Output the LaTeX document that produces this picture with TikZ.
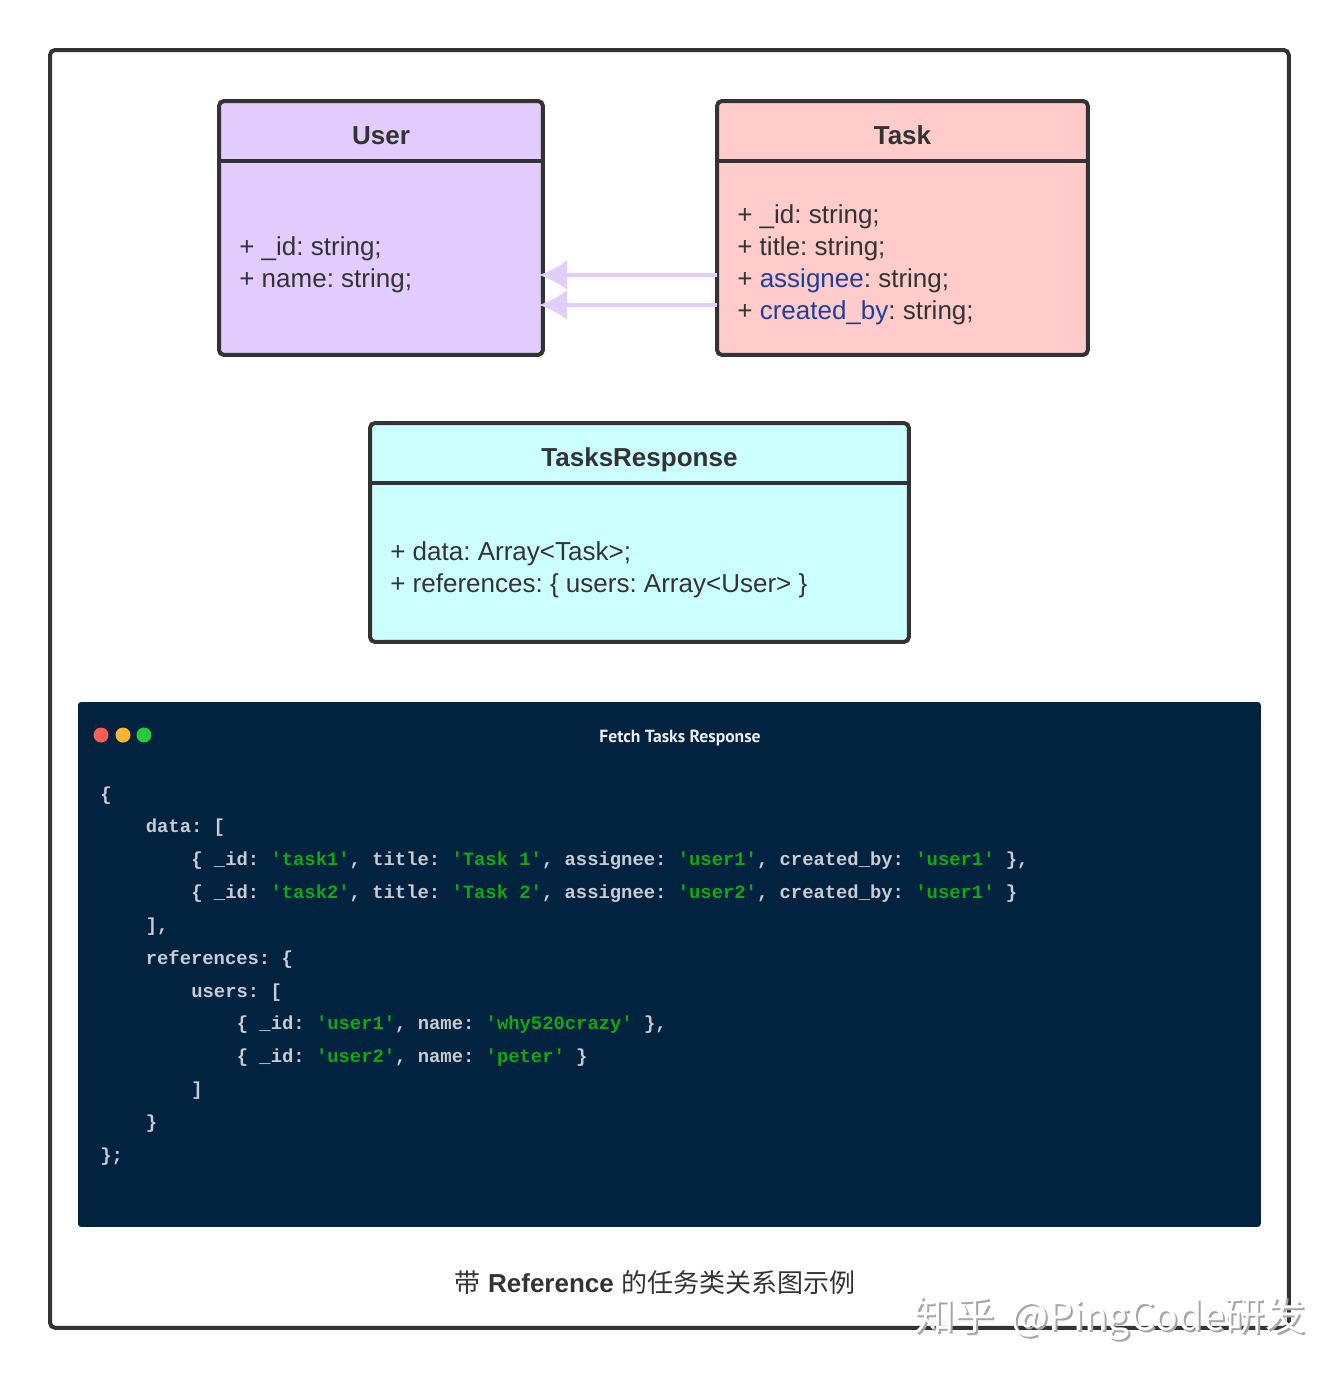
\documentclass[tikz,border=0pt]{standalone}
\usepackage{fontspec}
\usepackage{tikz}
\usetikzlibrary{arrows.meta}
\setmainfont{Liberation Sans}
\newfontfamily\codefont{Liberation Mono}
\newfontfamily\panelfont{PT Sans}
\newfontfamily\cjk{Noto Sans CJK SC}
\definecolor{linegray}{HTML}{333333}
\definecolor{userfill}{HTML}{E3CCFF}
\definecolor{taskfill}{HTML}{FFCCCB}
\definecolor{respfill}{HTML}{CCFFFF}
\definecolor{linkblue}{HTML}{1F3F99}
\definecolor{arrowfill}{HTML}{E1CFFB}
\definecolor{panelblue}{HTML}{012340}
\definecolor{codegray}{HTML}{C8CCD2}
\definecolor{codegreen}{HTML}{12A812}
\newcommand{\strval}[1]{\textcolor{codegreen}{#1}}
\newcommand{\linkname}[1]{\textcolor{linkblue}{#1}}
\newcommand{\marktext}{知乎\hspace{4pt} {\fontsize{22.3}{26}\selectfont @PingCode}研发}
\frenchspacing
\tikzset{
  classbox/.style={draw=linegray,line width=0.08cm,rounded corners=0.1cm,anchor=north west,inner sep=0pt,outer sep=0pt},
  classtitle/.style={anchor=north,inner sep=0pt,outer sep=0pt,minimum height=1.2cm,text height=0.88cm,text depth=0.32cm,text=linegray,font=\fontsize{14.8}{18}\selectfont\bfseries},
  classbody/.style={anchor=base west,inner sep=0pt,align=left,text=linegray,font=\fontsize{14.8}{18.2}\selectfont},
  refarrow/.style={draw=arrowfill,line width=0.08cm,-{Latex[length=0.56cm,width=0.6cm]}},
  codeline/.style={anchor=base west,inner sep=0pt,text=codegray,font=\fontsize{10.73}{13}\codefont\bfseries}
}
\begin{document}
\begin{tikzpicture}[x=0.02cm,y=-0.02cm]
  \useasboundingbox (0,0) rectangle (1340,1379);

  \node[classbox,minimum width=24.78cm,minimum height=25.56cm] (frame) at (50,50) {};

  % class boxes
  \node[classbox,fill=userfill,minimum width=6.48cm,minimum height=5.08cm] (user) at (219,101) {};
  \node[classtitle,minimum width=6.48cm] (usertitle) at (user.north) {User};
  \draw[linegray,line width=0.08cm] (usertitle.south west) -- (usertitle.south east);
  \node[classbody] (userbody) at (239,287) {+ \_id: string;\\+ name: string;};

  \node[classbox,fill=taskfill,minimum width=7.42cm,minimum height=5.08cm] (task) at (717,101) {};
  \node[classtitle,minimum width=7.42cm] (tasktitle) at (task.north) {Task};
  \draw[linegray,line width=0.08cm] (tasktitle.south west) -- (tasktitle.south east);
  \node[classbody] (taskbody) at (737,319) {+ \_id: string;\\+ title: string;\\+ \linkname{assignee}: string;\\+ \linkname{created\_by}: string;};

  \node[classbox,fill=respfill,minimum width=10.78cm,minimum height=4.38cm] (resp) at (370,423) {};
  \node[classtitle,minimum width=10.78cm] (resptitle) at (resp.north) {TasksResponse};
  \draw[linegray,line width=0.08cm] (resptitle.south west) -- (resptitle.south east);
  \node[classbody] (respbody) at (390,592) {+ data: Array<Task>;\\+ references: \{ users: Array<User> \}};

  % links
  \coordinate (assigneeout) at (717,275);
  \coordinate (assigneein) at (539,275);
  \coordinate (creatorout) at (717,305);
  \coordinate (creatorin) at (539,305);
  \draw[refarrow] (assigneeout) -- (assigneein);
  \draw[refarrow] (creatorout) -- (creatorin);

  % response panel
  \node[fill=panelblue,rounded corners=0.06cm,anchor=north west,inner sep=0pt,outer sep=0pt,minimum width=23.66cm,minimum height=10.5cm] (panel) at (78,702) {};
  \foreach \x/\c in {101/FF5F56,123/FFB52E,144/27C93F} {
    \definecolor{dotcolor}{HTML}{\c}
    \fill[dotcolor] (\x,735) circle (0.15cm);
  }
  \node[inner sep=0pt,text=white!92!panelblue,font=\fontsize{10}{12}\panelfont\bfseries] (paneltitle) at (680,738) {Fetch Tasks Response};

  \foreach \row/\lvl/\txt in {
    0/0/{\{},
    1/1/{data: [},
    2/2/{\{ \_id: \strval{'task1'}, title: \strval{'Task 1'}, assignee: \strval{'user1'}, created\_by: \strval{'user1'} \},},
    3/2/{\{ \_id: \strval{'task2'}, title: \strval{'Task 2'}, assignee: \strval{'user2'}, created\_by: \strval{'user1'} \}},
    4/1/{],},
    5/1/{references: \{},
    6/2/{users: [},
    7/3/{\{ \_id: \strval{'user1'}, name: \strval{'why520crazy'} \},},
    8/3/{\{ \_id: \strval{'user2'}, name: \strval{'peter'} \}},
    9/2/{]},
    10/1/{\}},
    11/0/{\};}
  } {
    \node[codeline] (code\row) at ({100+45.5*\lvl},{800+32.85*\row}) {\txt};
  }

  \node[inner sep=0pt,text=linegray,font=\fontsize{14.8}{18}\selectfont] (caption) at (655,1283) {{\cjk 带} \textbf{Reference} {\cjk 的任务类关系图示例}};

  % watermark
  \node[inner sep=0pt,text=black!35,font=\fontsize{23}{26}\cjk] (markshadow) at (1112,1320) {\marktext};
  \node[inner sep=0pt,text=white,font=\fontsize{23}{26}\cjk] (mark) at (1110,1318) {\marktext};
\end{tikzpicture}
\end{document}
